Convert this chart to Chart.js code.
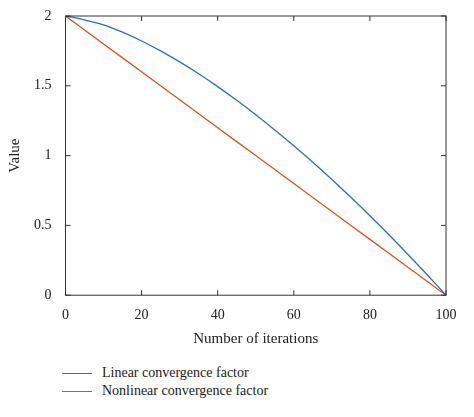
<!DOCTYPE html>
<html><head><meta charset="utf-8">
<script src="https://cdn.jsdelivr.net/npm/chart.js@4"></script>
<style>
body{margin:0;background:#fff;font-family:"Liberation Serif",serif;}
#wrap{position:relative;width:474px;height:352px;}
.leg{position:absolute;left:62px;font-size:14px;color:#222;display:flex;align-items:center;}
.leg span{display:inline-block;width:30px;height:0;border-top:1.5px solid;margin-right:10px;}
</style></head><body>
<div id="wrap"><canvas id="c"></canvas></div>
<div class="leg" style="top:365px"><span style="border-color:#2f6fbf"></span>Linear convergence factor</div>
<div class="leg" style="top:383px"><span style="border-color:#d9541c"></span>Nonlinear convergence factor</div>
<script>
const iterations=[0,5,10,15,20,25,30,35,40,45,50,55,60,65,70,75,80,85,90,95,100];
const linearFactor=[2,1.972,1.937,1.884,1.821,1.75,1.671,1.586,1.494,1.396,1.293,1.184,1.07,0.952,0.829,0.701,0.569,0.433,0.292,0.148,0];
const nonlinearFactor=[2,1.9,1.8,1.7,1.6,1.5,1.4,1.3,1.2,1.1,1,0.9,0.8,0.7,0.6,0.5,0.4,0.3,0.2,0.1,0];
const xTicks=[0,20,40,60,80,100];
const yTicks=[0,0.5,1,1.5,2];
const toPts=a=>a.map((v,i)=>({x:iterations[i],y:v}));
const box={id:'box',afterDraw(ch){const {ctx,chartArea:a,scales:{x,y}}=ch;ctx.save();ctx.strokeStyle='#333';ctx.lineWidth=1;
ctx.strokeRect(a.left,a.top,a.right-a.left,a.bottom-a.top);
xTicks.forEach(t=>{const p=x.getPixelForValue(t);ctx.beginPath();ctx.moveTo(p,a.bottom);ctx.lineTo(p,a.bottom-5);ctx.moveTo(p,a.top);ctx.lineTo(p,a.top+5);ctx.stroke();});
yTicks.forEach(t=>{const p=y.getPixelForValue(t);ctx.beginPath();ctx.moveTo(a.left,p);ctx.lineTo(a.left+5,p);ctx.moveTo(a.right,p);ctx.lineTo(a.right-5,p);ctx.stroke();});
ctx.restore();}};
Chart.defaults.font.family='"Liberation Serif", serif';
Chart.defaults.color='#222';
new Chart(document.getElementById('c'),{type:'line',
data:{datasets:[
{label:'Linear convergence factor',data:toPts(linearFactor),borderColor:'#2f6fbf',borderWidth:1.3,pointRadius:0,tension:0.3},
{label:'Nonlinear convergence factor',data:toPts(nonlinearFactor),borderColor:'#d9541c',borderWidth:1.3,pointRadius:0}]},
options:{responsive:true,maintainAspectRatio:false,animation:false,
layout:{padding:{top:16,right:28,left:2}},
plugins:{legend:{display:false},tooltip:{enabled:false}},
scales:{
x:{type:'linear',min:0,max:100,afterBuildTicks:s=>{s.ticks=xTicks.map(v=>({value:v}));},
grid:{display:false},border:{display:false},ticks:{font:{size:14},padding:4,callback:v=>String(v)},
title:{display:true,text:'Number of iterations',font:{size:15},padding:{top:2}}},
y:{min:0,max:2,afterBuildTicks:s=>{s.ticks=yTicks.map(v=>({value:v}));},
grid:{display:false},border:{display:false},ticks:{font:{size:14},padding:6,callback:v=>String(v)},
title:{display:true,text:'Value',font:{size:15}}}}},
plugins:[box]});
</script></body></html>
